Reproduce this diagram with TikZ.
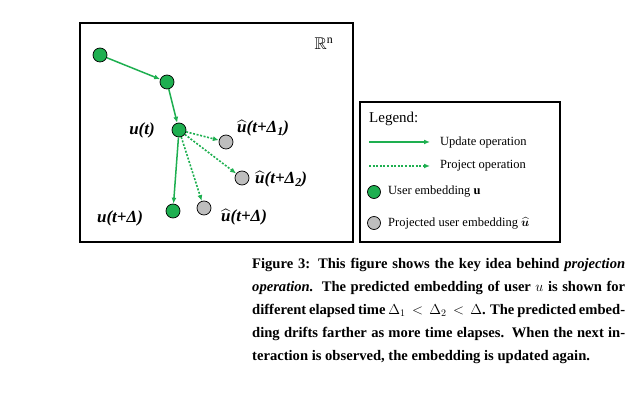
\documentclass[tikz,border=0pt]{standalone}
\usepackage{amsmath,amssymb}
\usepackage{fontspec}
\setmainfont{Liberation Serif}
\usetikzlibrary{arrows.meta}
\definecolor{grn}{RGB}{30,175,80}
\definecolor{gry}{RGB}{190,190,190}
\tikzset{
  ue/.style={circle,draw=black,fill=grn,minimum size=14pt,inner sep=0pt,line width=0.7pt},
  pe/.style={circle,draw=black,fill=gry,minimum size=14pt,inner sep=0pt,line width=0.7pt},
  upd/.style={draw=grn,line width=1.5pt,-{Latex[length=6pt,width=5pt]}},
  prj/.style={draw=grn,line width=1.6pt,dash pattern=on 2pt off 1.6pt,-{Latex[length=6pt,width=5pt]}},
  lbl/.style={font=\fontsize{17}{17}\selectfont\bfseries\itshape,inner sep=0pt},
  leg/.style={font=\fontsize{12.5}{13}\selectfont,anchor=west,inner sep=0pt},
  capl/.style={anchor=north west,inner sep=0pt,font=\fontsize{14.6}{15}\selectfont\bfseries}
}
\newcommand{\capline}[1]{\hbox to 373pt{\spaceskip=0.22em plus 2em minus 0.05em #1}}
\newcommand{\capend}[1]{\hbox to 373pt{#1\hfil}}
\begin{document}
\begin{tikzpicture}[x=1pt,y=-1pt]
\useasboundingbox (0,0) rectangle (640,411);
\draw[line width=2pt] (80,23) rectangle (353,242);
\draw[line width=1.2pt] (360,102) rectangle (560,242);
\node[inner sep=0pt] (rn) at (324,44) {\fontsize{17}{17}\selectfont$\mathbb{R}^{\mathrm{n}}$};
\node[ue] (n1) at (100,55) {};
\node[ue] (n2) at (167,82) {};
\node[ue] (n3) at (179,130) {};
\node[ue] (n4) at (173,211) {};
\node[pe] (g1) at (226,142) {};
\node[pe] (g2) at (242,178) {};
\node[pe] (g3) at (204,208) {};
\draw[upd] (n1) -- (n2);
\draw[upd] (n2) -- (n3);
\draw[upd] (n3) -- (n4);
\draw[prj] (n3) -- (g1);
\draw[prj] (n3) -- (g2);
\draw[prj] (n3) -- (g3);
\node[lbl] (l1) at (142,130) {u(t)};
\node[lbl] (l2) at (120,218) {u(t+Δ)};
\node[lbl,anchor=west] (l3) at (237,128) {$\widehat{\text{u}}$(t+Δ\raisebox{-3pt}{\fontsize{12}{12}\selectfont 1})};
\node[lbl,anchor=west] (l4) at (255,179) {$\widehat{\text{u}}$(t+Δ\raisebox{-3pt}{\fontsize{12}{12}\selectfont 2})};
\node[lbl,anchor=west] (l5) at (221,217) {$\widehat{\text{u}}$(t+Δ)};
\node[leg,font=\fontsize{15}{15}\selectfont] (lt) at (369,119) {Legend:};
\coordinate (a1) at (369,142); \coordinate (b1) at (430,142);
\coordinate (a2) at (369,166); \coordinate (b2) at (430,166);
\draw[upd,line width=1.2pt] (a1) -- (b1);
\draw[prj,line width=1.3pt] (a2) -- (b2);
\node[leg] (t1) at (440,142) {Update operation};
\node[leg] (t2) at (440,166) {Project operation};
\node[ue,minimum size=13pt] (c1) at (374,192) {};
\node[pe,minimum size=13pt] (c2) at (374,223) {};
\node[leg] (t3) at (388,192) {User embedding \textbf{u}};
\node[leg] (t4) at (388,223) {Projected user embedding $\boldsymbol{\widehat{u}}$};
\node[capl] (cap1) at (252,258) {\capline{Figure 3: This figure shows the key idea behind \textit{projection}}};
\node[capl] (cap2) at (252,281) {\capline{\textit{operation.} The predicted embedding of user $u$ is shown for}};
\node[capl] (cap3) at (252,304) {\capline{different elapsed time $\Delta_1\,<\,\Delta_2\,<\,\Delta$. The predicted embed-}};
\node[capl] (cap4) at (252,327) {\capline{ding drifts farther as more time elapses. When the next in-}};
\node[capl] (cap5) at (252,350) {\capend{teraction is observed, the embedding is updated again.}};
\end{tikzpicture}
\end{document}
